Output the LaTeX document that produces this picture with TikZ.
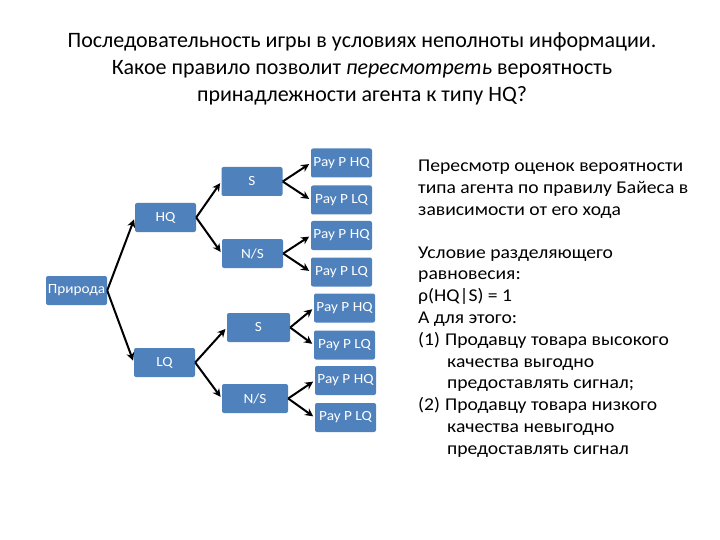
\documentclass[tikz,border=0pt]{standalone}
\usepackage{fontspec}
\setmainfont{Carlito}
\newfontfamily\widefont[FakeStretch=1.09]{Carlito}
\usepackage{tikz}
\usetikzlibrary{arrows.meta}
\definecolor{boxblue}{RGB}{79,129,189}

\begin{document}
\begin{tikzpicture}[x=1pt,y=-1pt,>={Stealth[length=8pt,width=8pt]},
	  box/.style={fill=boxblue,rounded corners=2pt,text=white,minimum width=61pt,
	    minimum height=29pt,inner sep=0pt,font=\widefont\fontsize{14}{16}\selectfont},
	  arr/.style={->,line width=2pt,shorten >=2pt},
	  remark/.style={align=left,anchor=base west,inner sep=0pt,font=\widefont\fontsize{18}{21.8}\selectfont}]
	  \useasboundingbox (0,0) rectangle (720,540);
	  % title
	  \node[align=center,font=\fontsize{22}{27}\selectfont] (title) at (362,69)
	    {Последовательность игры в условиях неполноты информации.\\
	     Какое правило позволит \emph{пересмотреть} вероятность\\
	     принадлежности агента к типу HQ?};
	  % tree
	  \node[box] (prir) at (76.5,290.5) {Природа};
	  \node[box] (hq) at (165.5,217.5) {HQ};
	  \node[box] (lq) at (164.5,362.5) {LQ};
	  \node[box] (hqs) at (252,181.5) {S};
	  \node[box] (hqns) at (252.5,253.5) {N/S};
	  \node[box,minimum width=63pt] (lqs) at (258.5,327.5) {S};
	  \node[box,minimum width=66pt] (lqns) at (255,398.5) {N/S};
	  \node[box] (pay1) at (341.5,163) {Pay P HQ};
	  \node[box] (pay2) at (341.5,200) {Pay P LQ};
	  \node[box] (pay3) at (341.5,235.5) {Pay P HQ};
	  \node[box] (pay4) at (341.5,272) {Pay P LQ};
	  \node[box] (pay5) at (344.5,308) {Pay P HQ};
	  \node[box] (pay6) at (344.5,345) {Pay P LQ};
	  \node[box] (pay7) at (345.5,380.5) {Pay P HQ};
	  \node[box] (pay8) at (345.5,417.5) {Pay P LQ};
	  \draw[arr] (prir.east) -- (hq.west);
	  \draw[arr] (prir.east) -- (lq.west);
	  \draw[arr] (hq.east) -- (hqs.west);
	  \draw[arr] (hq.east) -- (hqns.west);
	  \draw[arr] (lq.east) -- (lqs.west);
	  \draw[arr] (lq.east) -- (lqns.west);
	  \draw[arr] (hqs.east) -- (pay1.west);
	  \draw[arr] (hqs.east) -- (pay2.west);
	  \draw[arr] (hqns.east) -- (pay3.west);
	  \draw[arr] (hqns.east) -- (pay4.west);
	  \draw[arr] (lqs.east) -- (pay5.west);
	  \draw[arr] (lqs.east) -- (pay6.west);
	  \draw[arr] (lqns.east) -- (pay7.west);
	  \draw[arr] (lqns.east) -- (pay8.west);
	  % right text (anchored at the baseline of the last line)
	  \node[remark] (txta) at (418,215.6)
	    {Пересмотр оценок вероятности\\
	     типа агента по правилу Байеса в\\
	     зависимости от его хода};
	  \node[remark] (txtb) at (418,454.2)
	    {Условие разделяющего\\
	     равновесия:\\
	     ρ(HQ|S) = 1\\
	     А для этого:\\
	     \makebox[27pt][l]{(1)}Продавцу товара высокого\\
	     \hspace*{29pt}качества выгодно\\
	     \hspace*{29pt}предоставлять сигнал;\\
	     \makebox[27pt][l]{(2)}Продавцу товара низкого\\
	     \hspace*{29pt}качества невыгодно\\
	     \hspace*{29pt}предоставлять сигнал};
	\end{tikzpicture}
\end{document}
